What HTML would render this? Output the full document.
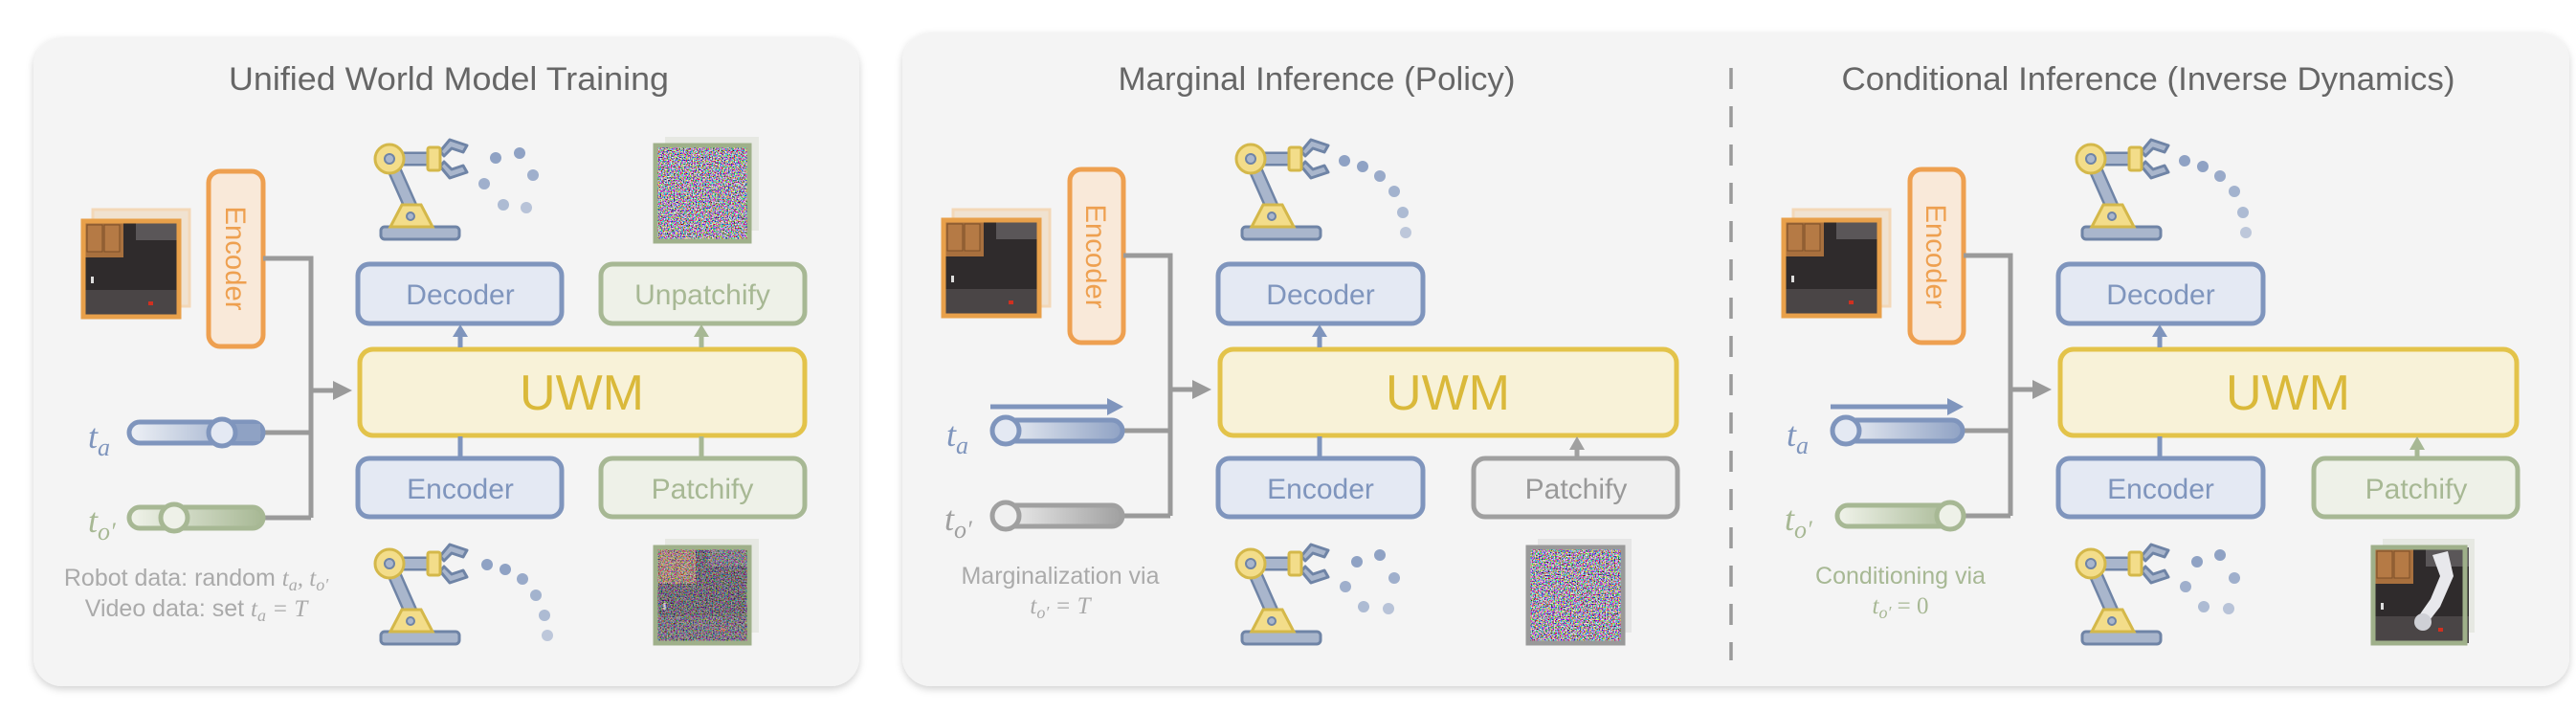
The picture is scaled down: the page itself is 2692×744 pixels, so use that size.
<!DOCTYPE html>
<html><head><meta charset="utf-8"><style>
html,body{margin:0;padding:0;background:#fff;}
svg{display:block;}
text{font-family:"Liberation Sans",sans-serif;}
.m{font-family:"Liberation Serif",serif;font-style:italic;}
</style></head><body>
<svg width="2692" height="744" viewBox="0 0 2692 744" xmlns="http://www.w3.org/2000/svg">
<defs>
<filter id="sh" x="-5%" y="-5%" width="110%" height="115%"><feDropShadow dx="0" dy="3" stdDeviation="4" flood-color="#000" flood-opacity="0.18"/></filter>
<filter id="noise" x="0" y="0" width="100%" height="100%"><feTurbulence type="fractalNoise" baseFrequency="0.7" numOctaves="2" seed="3"/><feComponentTransfer><feFuncR type="linear" slope="3.2" intercept="-1.15"/><feFuncG type="linear" slope="3.2" intercept="-1.2"/><feFuncB type="linear" slope="3.2" intercept="-1.1"/><feFuncA type="linear" slope="0" intercept="1"/></feComponentTransfer></filter>
<linearGradient id="gb" x1="0" x2="1"><stop offset="0" stop-color="#eef1f6"/><stop offset="1" stop-color="#8fa2c4"/></linearGradient>
<linearGradient id="gg" x1="0" x2="1"><stop offset="0" stop-color="#f0f3ea"/><stop offset="1" stop-color="#a7b894"/></linearGradient>
<linearGradient id="gy" x1="0" x2="1"><stop offset="0" stop-color="#f2f2f2"/><stop offset="1" stop-color="#a0a0a0"/></linearGradient>
<marker id="ag" markerWidth="4" markerHeight="4" refX="2" refY="2" orient="auto" markerUnits="strokeWidth"><path d="M0,0 L4,2 L0,4 z" fill="#9a9a9a"/></marker>
<g id="robot">
<rect x="38" y="107" width="82" height="13" rx="4" fill="#a9b6cc" stroke="#6f84a6" stroke-width="3"/>
<line x1="47" y1="36" x2="70" y2="88" stroke="#6f84a6" stroke-width="15" stroke-linecap="round"/>
<line x1="47" y1="36" x2="70" y2="88" stroke="#a9b6cc" stroke-width="10" stroke-linecap="round"/>
<line x1="47" y1="36" x2="92" y2="36" stroke="#6f84a6" stroke-width="15"/>
<line x1="47" y1="36" x2="92" y2="36" stroke="#a9b6cc" stroke-width="10"/>
<polygon points="48,107 60,84 80,84 92,107" fill="#f3dd8a" stroke="#d4b84a" stroke-width="3"/>
<circle cx="69" cy="96" r="4" fill="#a9b6cc" stroke="#6f84a6" stroke-width="2"/>
<polygon points="100,28 110,16 128,22 124,29 112,25 104,33" fill="#a9b6cc" stroke="#6f84a6" stroke-width="3" stroke-linejoin="round"/>
<polygon points="100,44 110,56 128,50 124,43 112,47 104,39" fill="#a9b6cc" stroke="#6f84a6" stroke-width="3" stroke-linejoin="round"/>
<rect x="87" y="24" width="13" height="24" rx="2" fill="#f3dd8a" stroke="#d4b84a" stroke-width="3"/>
<circle cx="47" cy="36" r="15" fill="#f3dd8a" stroke="#d4b84a" stroke-width="3"/>
<circle cx="47" cy="36" r="5" fill="#a9b6cc" stroke="#6f84a6" stroke-width="2"/>
</g>
<g id="photo">
<rect x="0" y="0" width="100" height="100" fill="#2f2b2c"/>
<rect x="0" y="0" width="42" height="38" fill="#a8703e"/>
<rect x="4" y="4" width="16" height="28" fill="#b57a45" stroke="#7a4e28" stroke-width="1"/>
<rect x="22" y="4" width="16" height="28" fill="#b57a45" stroke="#7a4e28" stroke-width="1"/>
<rect x="0" y="72" width="100" height="28" fill="#4a4546"/>
<rect x="55" y="0" width="45" height="20" fill="#5a5658"/>
<rect x="68" y="84" width="5" height="4" fill="#d03020"/>
<rect x="8" y="58" width="3" height="7" fill="#ddd"/>
</g>
</defs>

<rect x="35" y="39" width="863" height="678" rx="30" fill="#f4f4f4" filter="url(#sh)"/>
<rect x="943" y="34" width="1742" height="683" rx="30" fill="#f4f4f4" filter="url(#sh)"/>
<line x1="1809" y1="71" x2="1809" y2="690" stroke="#999" stroke-width="3.5" stroke-dasharray="22,18"/>

<text x="469" y="94" font-size="34" fill="#666" text-anchor="middle" textLength="460" lengthAdjust="spacingAndGlyphs">Unified World Model Training</text>
<text x="1376" y="94" font-size="34" fill="#666" text-anchor="middle" textLength="415" lengthAdjust="spacingAndGlyphs">Marginal Inference (Policy)</text>
<text x="2245" y="94" font-size="34" fill="#666" text-anchor="middle" textLength="641" lengthAdjust="spacingAndGlyphs">Conditional Inference (Inverse Dynamics)</text>

<g>
<rect x="97" y="219" width="101" height="101" fill="#f0e2d0" stroke="#f3d8b8" stroke-width="3"/>
<g transform="translate(87,231)"><use href="#photo"/><rect x="0" y="0" width="100" height="100" fill="none" stroke="#e8a04a" stroke-width="5"/></g>
<rect x="218" y="179" width="57" height="183" rx="12" fill="#f9e9d9" stroke="#eea050" stroke-width="5"/>
<text transform="translate(236,270) rotate(90)" font-size="30" fill="#eea050" text-anchor="middle" textLength="109" lengthAdjust="spacingAndGlyphs">Encoder</text>
<polyline points="275,270 325,270 325,541" fill="none" stroke="#9a9a9a" stroke-width="5"/>
<line x1="275" y1="452" x2="325" y2="452" stroke="#9a9a9a" stroke-width="5"/>
<line x1="275" y1="541" x2="325" y2="541" stroke="#9a9a9a" stroke-width="5"/>
<line x1="325" y1="408" x2="358" y2="408" stroke="#9a9a9a" stroke-width="5" marker-end="url(#ag)"/>
<rect x="135" y="441" width="140" height="22" rx="11" fill="url(#gb)" stroke="#7f95bd" stroke-width="5"/>
<rect x="232" y="443" width="40" height="18" fill="#8fa2c4"/>
<circle cx="232" cy="452" r="14" fill="#e4e9f3" stroke="#7f95bd" stroke-width="5"/>
<rect x="135" y="530" width="140" height="22" rx="11" fill="url(#gg)" stroke="#a7b894" stroke-width="5"/>
<circle cx="182" cy="541" r="14" fill="#eef1e8" stroke="#a7b894" stroke-width="5"/>
<text x="92" y="468" class="m" font-size="36" fill="#7f95bd">t<tspan font-size="26" dy="8">a</tspan></text>
<text x="92" y="556" class="m" font-size="36" fill="#a7b894">t<tspan font-size="26" dy="8">o′</tspan></text>
<text x="205" y="612" font-size="25" fill="#aaa" text-anchor="middle">Robot data: random <tspan class="m">t<tspan font-size="18" dy="5">a</tspan><tspan dy="-5">, t</tspan><tspan font-size="18" dy="5">o′</tspan></tspan></text>
<text x="205" y="644" font-size="25" fill="#aaa" text-anchor="middle">Video data: set <tspan class="m">t<tspan font-size="18" dy="5">a</tspan><tspan dy="-5"> = T</tspan></tspan></text>
<rect x="374" y="276" width="213" height="62" rx="12" fill="#e4e9f3" stroke="#7f95bd" stroke-width="5"/>
<text x="481" y="318" font-size="30" fill="#7f95bd" text-anchor="middle">Decoder</text>
<rect x="628" y="276" width="213" height="62" rx="12" fill="#eef1e8" stroke="#a7b894" stroke-width="5"/>
<text x="734" y="318" font-size="30" fill="#a7b894" text-anchor="middle">Unpatchify</text>
<rect x="376" y="365" width="465" height="90" rx="14" fill="#f8f2d8" stroke="#e3c34a" stroke-width="5"/>
<text x="608" y="428" font-size="52" fill="#dab93a" text-anchor="middle">UWM</text>
<rect x="374" y="479" width="213" height="61" rx="12" fill="#e4e9f3" stroke="#7f95bd" stroke-width="5"/>
<text x="481" y="521" font-size="30" fill="#7f95bd" text-anchor="middle">Encoder</text>
<rect x="628" y="479" width="213" height="61" rx="12" fill="#eef1e8" stroke="#a7b894" stroke-width="5"/>
<text x="734" y="521" font-size="30" fill="#a7b894" text-anchor="middle">Patchify</text>
<line x1="481" y1="363" x2="481" y2="350" stroke="#7f95bd" stroke-width="5"/><polygon points="473,352 489,352 481,339" fill="#7f95bd"/>
<line x1="733" y1="363" x2="733" y2="350" stroke="#a7b894" stroke-width="5"/><polygon points="725,352 741,352 733,339" fill="#a7b894"/>
<line x1="481" y1="456" x2="481" y2="478" stroke="#7f95bd" stroke-width="5"/>
<line x1="733" y1="456" x2="733" y2="478" stroke="#a7b894" stroke-width="5"/>
<use href="#robot" x="360" y="130"/>
<use href="#robot" x="360" y="553"/>
<g fill="#8fa2c4"><circle cx="518" cy="165" r="6"/><circle cx="543" cy="160" r="6"/><circle cx="557" cy="183" r="6" opacity=".85"/><circle cx="506" cy="192" r="6" opacity=".85"/><circle cx="526" cy="214" r="6" opacity=".7"/><circle cx="550" cy="217" r="6" opacity=".6"/></g>
<g fill="#8fa2c4"><circle cx="509" cy="590" r="6"/><circle cx="528" cy="595" r="6"/><circle cx="546" cy="605" r="6" opacity=".9"/><circle cx="560" cy="622" r="6" opacity=".8"/><circle cx="569" cy="643" r="6" opacity=".7"/><circle cx="572" cy="664" r="6" opacity=".55"/></g>
<rect x="695" y="143" width="98" height="98" fill="#e6e8e2"/>
<rect x="685" y="152" width="98" height="100" filter="url(#noise)"/>
<rect x="685" y="152" width="98" height="100" fill="none" stroke="#9fb08a" stroke-width="5"/>
<rect x="695" y="563" width="98" height="98" fill="#e6e8e2"/>
<g transform="translate(685,572)"><use href="#photo"/></g>
<rect x="685" y="572" width="98" height="100" filter="url(#noise)" opacity=".6"/>
<rect x="685" y="572" width="98" height="100" fill="none" stroke="#9fb08a" stroke-width="5"/>
</g>

<g>
<rect x="996" y="219" width="101" height="101" fill="#f0e2d0" stroke="#f3d8b8" stroke-width="3"/>
<g transform="translate(986,230)"><use href="#photo"/><rect x="0" y="0" width="100" height="100" fill="none" stroke="#e8a04a" stroke-width="5"/></g>
<rect x="1118" y="177" width="56" height="181" rx="12" fill="#f9e9d9" stroke="#eea050" stroke-width="5"/>
<text transform="translate(1135,268) rotate(90)" font-size="30" fill="#eea050" text-anchor="middle" textLength="109" lengthAdjust="spacingAndGlyphs">Encoder</text>
<polyline points="1174,267 1223,267 1223,539" fill="none" stroke="#9a9a9a" stroke-width="5"/>
<line x1="1173" y1="450" x2="1223" y2="450" stroke="#9a9a9a" stroke-width="5"/>
<line x1="1173" y1="539" x2="1223" y2="539" stroke="#9a9a9a" stroke-width="5"/>
<line x1="1223" y1="407" x2="1256" y2="407" stroke="#9a9a9a" stroke-width="5" marker-end="url(#ag)"/>
<line x1="1035" y1="425" x2="1160" y2="425" stroke="#7f95bd" stroke-width="5"/><polygon points="1157,416 1174,425 1157,434" fill="#7f95bd"/>
<rect x="1042" y="439" width="131" height="22" rx="11" fill="url(#gb)" stroke="#7f95bd" stroke-width="5"/>
<circle cx="1051" cy="450" r="14" fill="#e4e9f3" stroke="#7f95bd" stroke-width="5"/>
<rect x="1042" y="528" width="131" height="22" rx="11" fill="url(#gy)" stroke="#a0a0a0" stroke-width="5"/>
<circle cx="1051" cy="539" r="14" fill="#f0f0f0" stroke="#a0a0a0" stroke-width="5"/>
<text x="989" y="466" class="m" font-size="36" fill="#7f95bd">t<tspan font-size="26" dy="8">a</tspan></text>
<text x="987" y="554" class="m" font-size="36" fill="#a0a0a0">t<tspan font-size="26" dy="8">o′</tspan></text>
<text x="1108" y="610" font-size="25" fill="#aaa" text-anchor="middle">Marginalization via</text>
<text x="1108" y="641" font-size="25" fill="#aaa" text-anchor="middle" class="m">t<tspan font-size="18" dy="5">o′</tspan><tspan dy="-5"> = T</tspan></text>
<rect x="1273" y="276" width="214" height="62" rx="12" fill="#e4e9f3" stroke="#7f95bd" stroke-width="5"/>
<text x="1380" y="318" font-size="30" fill="#7f95bd" text-anchor="middle">Decoder</text>
<rect x="1275" y="365" width="477" height="90" rx="14" fill="#f8f2d8" stroke="#e3c34a" stroke-width="5"/>
<text x="1513" y="428" font-size="52" fill="#dab93a" text-anchor="middle">UWM</text>
<rect x="1273" y="479" width="214" height="61" rx="12" fill="#e4e9f3" stroke="#7f95bd" stroke-width="5"/>
<text x="1380" y="521" font-size="30" fill="#7f95bd" text-anchor="middle">Encoder</text>
<rect x="1540" y="479" width="213" height="61" rx="12" fill="#f0f0f0" stroke="#a0a0a0" stroke-width="5"/>
<text x="1647" y="521" font-size="30" fill="#999" text-anchor="middle">Patchify</text>
<line x1="1379" y1="363" x2="1379" y2="350" stroke="#7f95bd" stroke-width="5"/><polygon points="1371,352 1387,352 1379,339" fill="#7f95bd"/>
<line x1="1379" y1="456" x2="1379" y2="478" stroke="#7f95bd" stroke-width="5"/>
<line x1="1648" y1="478" x2="1648" y2="468" stroke="#a0a0a0" stroke-width="5"/><polygon points="1640,470 1656,470 1648,456" fill="#a0a0a0"/>
<use href="#robot" x="1260" y="130"/>
<use href="#robot" x="1260" y="553"/>
<g fill="#8fa2c4"><circle cx="1405" cy="168" r="6"/><circle cx="1424" cy="174" r="6"/><circle cx="1442" cy="184" r="6" opacity=".9"/><circle cx="1457" cy="200" r="6" opacity=".8"/><circle cx="1466" cy="222" r="6" opacity=".7"/><circle cx="1469" cy="243" r="6" opacity=".55"/></g>
<g fill="#8fa2c4"><circle cx="1418" cy="587" r="6"/><circle cx="1442" cy="580" r="6"/><circle cx="1457" cy="604" r="6" opacity=".85"/><circle cx="1406" cy="613" r="6" opacity=".85"/><circle cx="1425" cy="634" r="6" opacity=".7"/><circle cx="1451" cy="636" r="6" opacity=".6"/></g>
<rect x="1607" y="563" width="98" height="98" fill="#e6e6e6"/>
<rect x="1597" y="572" width="99" height="100" filter="url(#noise)"/>
<rect x="1597" y="572" width="99" height="100" fill="none" stroke="#999" stroke-width="5"/>
</g>

<g>
<rect x="1874" y="219" width="101" height="101" fill="#f0e2d0" stroke="#f3d8b8" stroke-width="3"/>
<g transform="translate(1864,230)"><use href="#photo"/><rect x="0" y="0" width="100" height="100" fill="none" stroke="#e8a04a" stroke-width="5"/></g>
<rect x="1996" y="177" width="56" height="181" rx="12" fill="#f9e9d9" stroke="#eea050" stroke-width="5"/>
<text transform="translate(2013,268) rotate(90)" font-size="30" fill="#eea050" text-anchor="middle" textLength="109" lengthAdjust="spacingAndGlyphs">Encoder</text>
<polyline points="2052,267 2101,267 2101,539" fill="none" stroke="#9a9a9a" stroke-width="5"/>
<line x1="2051" y1="450" x2="2101" y2="450" stroke="#9a9a9a" stroke-width="5"/>
<line x1="2051" y1="539" x2="2101" y2="539" stroke="#9a9a9a" stroke-width="5"/>
<line x1="2101" y1="407" x2="2134" y2="407" stroke="#9a9a9a" stroke-width="5" marker-end="url(#ag)"/>
<line x1="1913" y1="425" x2="2038" y2="425" stroke="#7f95bd" stroke-width="5"/><polygon points="2035,416 2052,425 2035,434" fill="#7f95bd"/>
<rect x="1920" y="439" width="131" height="22" rx="11" fill="url(#gb)" stroke="#7f95bd" stroke-width="5"/>
<circle cx="1929" cy="450" r="14" fill="#e4e9f3" stroke="#7f95bd" stroke-width="5"/>
<rect x="1920" y="528" width="124" height="22" rx="11" fill="url(#gg)" stroke="#a7b894" stroke-width="5"/>
<circle cx="2038" cy="539" r="14" fill="#eef1e8" stroke="#a7b894" stroke-width="5"/>
<text x="1867" y="466" class="m" font-size="36" fill="#7f95bd">t<tspan font-size="26" dy="8">a</tspan></text>
<text x="1865" y="554" class="m" font-size="36" fill="#a7b894">t<tspan font-size="26" dy="8">o′</tspan></text>
<text x="1986" y="610" font-size="25" fill="#a7b894" text-anchor="middle">Conditioning via</text>
<text x="1986" y="641" font-size="25" fill="#a7b894" text-anchor="middle" class="m">t<tspan font-size="18" dy="5">o′</tspan><tspan dy="-5" font-style="normal"> = 0</tspan></text>
<rect x="2151" y="276" width="214" height="62" rx="12" fill="#e4e9f3" stroke="#7f95bd" stroke-width="5"/>
<text x="2258" y="318" font-size="30" fill="#7f95bd" text-anchor="middle">Decoder</text>
<rect x="2153" y="365" width="477" height="90" rx="14" fill="#f8f2d8" stroke="#e3c34a" stroke-width="5"/>
<text x="2391" y="428" font-size="52" fill="#dab93a" text-anchor="middle">UWM</text>
<rect x="2151" y="479" width="214" height="61" rx="12" fill="#e4e9f3" stroke="#7f95bd" stroke-width="5"/>
<text x="2258" y="521" font-size="30" fill="#7f95bd" text-anchor="middle">Encoder</text>
<rect x="2418" y="479" width="213" height="61" rx="12" fill="#eef1e8" stroke="#a7b894" stroke-width="5"/>
<text x="2525" y="521" font-size="30" fill="#a7b894" text-anchor="middle">Patchify</text>
<line x1="2257" y1="363" x2="2257" y2="350" stroke="#7f95bd" stroke-width="5"/><polygon points="2249,352 2265,352 2257,339" fill="#7f95bd"/>
<line x1="2257" y1="456" x2="2257" y2="478" stroke="#7f95bd" stroke-width="5"/>
<line x1="2526" y1="478" x2="2526" y2="468" stroke="#a7b894" stroke-width="5"/><polygon points="2518,470 2534,470 2526,456" fill="#a7b894"/>
<use href="#robot" x="2138" y="130"/>
<use href="#robot" x="2138" y="553"/>
<g fill="#8fa2c4"><circle cx="2283" cy="168" r="6"/><circle cx="2302" cy="174" r="6"/><circle cx="2320" cy="184" r="6" opacity=".9"/><circle cx="2335" cy="200" r="6" opacity=".8"/><circle cx="2344" cy="222" r="6" opacity=".7"/><circle cx="2347" cy="243" r="6" opacity=".55"/></g>
<g fill="#8fa2c4"><circle cx="2296" cy="587" r="6"/><circle cx="2320" cy="580" r="6"/><circle cx="2335" cy="604" r="6" opacity=".85"/><circle cx="2284" cy="613" r="6" opacity=".85"/><circle cx="2303" cy="634" r="6" opacity=".7"/><circle cx="2329" cy="636" r="6" opacity=".6"/></g>
<rect x="2490" y="563" width="96" height="98" fill="#e6e8e2"/>
<g transform="translate(2480,572)"><use href="#photo"/>
<path d="M62,8 L78,4 L84,30 L70,62 L56,80 L46,74 L60,54 L70,30 z" fill="#e8e8ec"/>
<circle cx="52" cy="78" r="9" fill="#cfd0d6"/></g>
<rect x="2480" y="572" width="96" height="100" fill="none" stroke="#9fb08a" stroke-width="5"/>
</g>
</svg>
</body></html>
